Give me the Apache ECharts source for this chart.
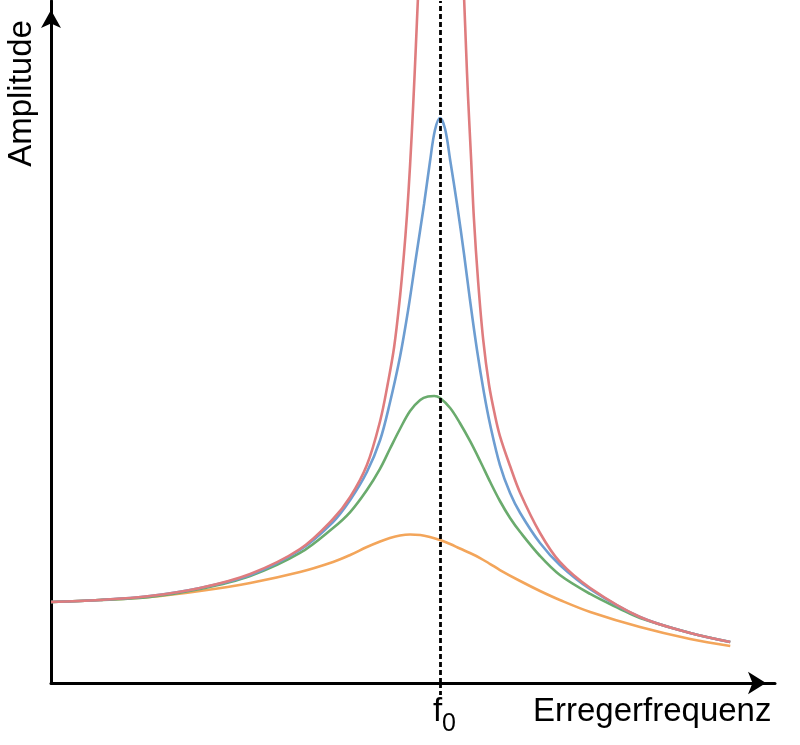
<!DOCTYPE html>
<html lang="de">
<head>
<meta charset="UTF-8">
<title>Resonanzkurven</title>
<script src="https://cdn.jsdelivr.net/npm/echarts@6/dist/echarts.min.js"></script>
<style>
  html, body { margin: 0; padding: 0; background: #fff; }
  #chart { width: 800px; height: 745px; }
</style>
</head>
<body>
<div id="chart"></div>
<script>
// x: Erregerfrequenz / f0, y: Amplitude / statische Auslenkung
var f0 = 1;
var xName = 'Erregerfrequenz';
var yName = 'Amplitude';
var f0Label = ['f', '0'];

// ungedaempft (geht bei f0 gegen unendlich -> zwei Aeste)
var redLeftX = [0, 0.126, 0.254, 0.383, 0.512, 0.640, 0.725, 0.769, 0.812, 0.846, 0.866, 0.882, 0.897, 0.907, 0.915, 0.923, 0.931, 0.938, 0.943, 0.946];
var redLeftY = [1.000, 1.025, 1.074, 1.173, 1.346, 1.654, 2.025, 2.296, 2.691, 3.235, 3.704, 4.148, 4.765, 5.284, 5.778, 6.395, 7.136, 7.877, 8.432, 8.741];
var redRightX = [1.059, 1.062, 1.067, 1.072, 1.080, 1.087, 1.098, 1.111, 1.126, 1.141, 1.154, 1.180, 1.206, 1.257, 1.308, 1.386, 1.514, 1.643, 1.746];
var redRightY = [8.741, 8.432, 7.815, 7.235, 6.457, 5.741, 4.951, 4.235, 3.679, 3.309, 3.049, 2.679, 2.346, 1.852, 1.494, 1.173, 0.815, 0.617, 0.506];

// schwach gedaempft
var blueX = [0, 0.126, 0.254, 0.383, 0.512, 0.640, 0.725, 0.769, 0.812, 0.846, 0.871, 0.897, 0.918, 0.938, 0.959, 0.974, 0.987, 1.000, 1.013, 1.026, 1.044, 1.062, 1.077, 1.095, 1.113, 1.129, 1.154, 1.180, 1.206, 1.257, 1.308, 1.386, 1.514, 1.643, 1.746];
var blueY = [1.000, 1.025, 1.074, 1.173, 1.333, 1.642, 1.988, 2.259, 2.605, 3.000, 3.457, 4.025, 4.605, 5.247, 5.914, 6.432, 6.827, 6.975, 6.840, 6.457, 5.901, 5.284, 4.728, 4.111, 3.580, 3.185, 2.691, 2.346, 2.099, 1.728, 1.457, 1.160, 0.815, 0.617, 0.506];

// mittel gedaempft
var greenX = [0, 0.126, 0.254, 0.383, 0.512, 0.640, 0.725, 0.769, 0.812, 0.846, 0.871, 0.897, 0.923, 0.949, 0.969, 0.985, 1.000, 1.026, 1.051, 1.077, 1.103, 1.129, 1.154, 1.180, 1.206, 1.257, 1.308, 1.386, 1.463, 1.514, 1.643, 1.746];
var greenY = [1.000, 1.025, 1.062, 1.160, 1.321, 1.605, 1.914, 2.111, 2.383, 2.648, 2.889, 3.136, 3.358, 3.494, 3.537, 3.543, 3.519, 3.395, 3.210, 2.988, 2.741, 2.481, 2.247, 2.037, 1.864, 1.568, 1.333, 1.099, 0.914, 0.802, 0.617, 0.506];

// stark gedaempft
var orangeX = [0, 0.126, 0.254, 0.383, 0.512, 0.640, 0.725, 0.769, 0.812, 0.846, 0.871, 0.897, 0.923, 0.949, 0.974, 1.000, 1.026, 1.051, 1.077, 1.103, 1.129, 1.154, 1.206, 1.257, 1.308, 1.386, 1.514, 1.643, 1.746];
var orangeY = [1.000, 1.025, 1.062, 1.136, 1.235, 1.370, 1.494, 1.580, 1.679, 1.747, 1.790, 1.821, 1.833, 1.827, 1.802, 1.765, 1.716, 1.660, 1.605, 1.543, 1.469, 1.395, 1.259, 1.136, 1.025, 0.877, 0.691, 0.543, 0.457];

function pairs(xs, ys) {
    return xs.map(function (x, i) { return [x, ys[i]]; });
}

function curve(data, color) {
    return {
        type: 'line',
        data: data,
        showSymbol: false,
        smooth: 0.35,
        lineStyle: { color: color, width: 2.6 },
        z: 3
    };
}

var chart = echarts.init(document.getElementById('chart'));

var series = [
    curve(pairs(orangeX, orangeY), '#f3a55a'),
    curve(pairs(greenX, greenY), '#6aab6d'),
    curve(pairs(blueX, blueY), '#6d9dd1'),
    curve(pairs(redLeftX, redLeftY), '#df7c7e'),
    curve(pairs(redRightX, redRightY), '#df7c7e')
];

// gestrichelte Linie bei f0
series[0].markLine = {
    silent: true,
    symbol: ['none', 'none'],
    label: { show: false },
    lineStyle: { color: '#000', type: [5, 3], width: 2.8 },
    data: [{ xAxis: f0 }],
    z: 5
};

chart.setOption({
    animation: false,
    backgroundColor: '#fff',
    grid: { left: 51, right: 25, top: 1, bottom: 62 },
    xAxis: {
        type: 'value',
        min: 0,
        max: 1.861,
        axisLine: {
            lineStyle: { color: '#000', width: 3 },
            symbol: ['none', 'arrow'],
            symbolSize: [17, 18],
            symbolOffset: [0, -9]
        },
        axisTick: {
            show: true,
            customValues: [f0],
            length: 12,
            lineStyle: { color: '#000', width: 2.8, type: [5, 3] }
        },
        axisLabel: { show: false },
        splitLine: { show: false }
    },
    yAxis: {
        type: 'value',
        min: 0,
        max: 8.42,
        axisLine: {
            show: true,
            lineStyle: { color: '#000', width: 3 },
            symbol: ['none', 'arrow'],
            symbolSize: [15, 18],
            symbolOffset: [0, -9]
        },
        axisTick: { show: false },
        axisLabel: { show: false },
        splitLine: { show: false }
    },
    graphic: [
        {
            type: 'text',
            x: 21.5,
            y: 93.5,
            rotation: Math.PI / 2,
            style: {
                text: yName,
                font: '33px "Liberation Sans", Arial, sans-serif',
                fill: '#000',
                align: 'center',
                verticalAlign: 'middle'
            }
        },
        {
            type: 'text',
            x: 533,
            y: 711.5,
            style: {
                text: xName,
                font: '33px "Liberation Sans", Arial, sans-serif',
                fill: '#000',
                align: 'left',
                verticalAlign: 'middle'
            }
        },
        {
            type: 'text',
            x: 433,
            y: 711.5,
            style: {
                text: f0Label[0],
                font: '33px "Liberation Sans", Arial, sans-serif',
                fill: '#000',
                align: 'left',
                verticalAlign: 'middle'
            }
        },
        {
            type: 'text',
            x: 442,
            y: 724,
            style: {
                text: f0Label[1],
                font: '25px "Liberation Sans", Arial, sans-serif',
                fill: '#000',
                align: 'left',
                verticalAlign: 'middle'
            }
        }
    ],
    series: series
});
</script>
</body>
</html>
